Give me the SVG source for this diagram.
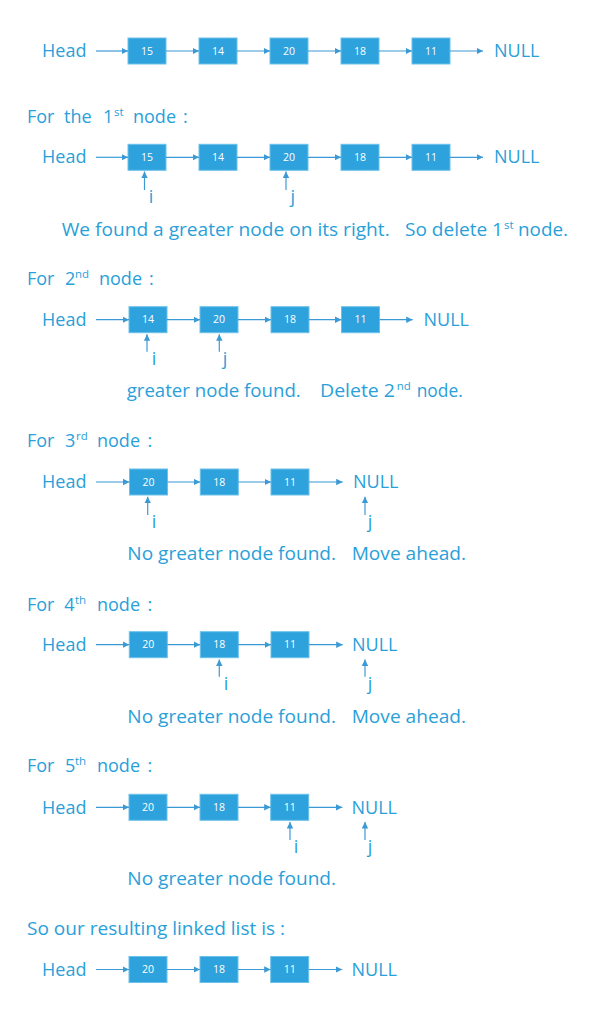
<svg xmlns="http://www.w3.org/2000/svg" width="595" height="1020" viewBox="0 0 595 1020">
<defs>
<marker id="ah" markerUnits="userSpaceOnUse" markerWidth="8" markerHeight="8" refX="6.5" refY="3.5" orient="auto">
<path d="M0,0.3 L6.5,3.5 L0,6.7 Z" fill="#3b9ad5"/>
</marker>
<style>
.t{font-family:"Open Sans","Noto Sans",sans-serif;font-size:18px;fill:#2a9fd9}
.sup{font-size:11.5px}
.m{text-anchor:middle}
.n rect{fill:#2ea2dd;stroke:#6cc1ea;stroke-width:1}
.n text{fill:#ffffff;font-family:"Open Sans","Noto Sans",sans-serif;font-size:10.5px;text-anchor:middle}
.c line{stroke:#3b9ad5;stroke-width:1.2;marker-end:url(#ah)}
</style>
</defs>
<rect width="595" height="1020" fill="#ffffff"/>

<g id="headings">
<text class="t" x="27" y="123">For</text><text class="t" x="64" y="123">the</text><text class="t" x="103" y="123">1</text><text class="t sup" x="114" y="116">st</text><text class="t" x="133" y="123">node</text><text class="t" x="183" y="123">:</text>
<text class="t" x="27" y="285">For</text><text class="t" x="65" y="285">2</text><text class="t sup" x="75" y="278">nd</text><text class="t" x="99" y="285">node</text><text class="t" x="149" y="285">:</text>
<text class="t" x="27" y="447.3">For</text><text class="t" x="65" y="447.3">3</text><text class="t sup" x="76" y="440.3">rd</text><text class="t" x="97" y="447.3">node</text><text class="t" x="147.5" y="447.3">:</text>
<text class="t" x="27" y="610.7">For</text><text class="t" x="64.3" y="610.7">4</text><text class="t sup" x="75" y="603.7">th</text><text class="t" x="97" y="610.7">node</text><text class="t" x="147.5" y="610.7">:</text>
<text class="t" x="27" y="772.3">For</text><text class="t" x="65" y="772.3">5</text><text class="t sup" x="75" y="765.3">th</text><text class="t" x="97" y="772.3">node</text><text class="t" x="147.5" y="772.3">:</text>
<text class="t" x="27" y="935" textLength="258" lengthAdjust="spacingAndGlyphs">So our resulting linked list is :</text>
</g>
<g id="sentences">
<text class="t" x="61.7" y="236" textLength="328" lengthAdjust="spacingAndGlyphs">We found a greater node on its right.</text>
<text class="t" x="405" y="236" textLength="98" lengthAdjust="spacingAndGlyphs">So delete 1</text><text class="t sup" x="504" y="229">st</text><text class="t" x="518" y="236" textLength="50" lengthAdjust="spacingAndGlyphs">node.</text>
<text class="t" x="126.7" y="397" textLength="174" lengthAdjust="spacingAndGlyphs">greater node found.</text>
<text class="t" x="320" y="397" textLength="75" lengthAdjust="spacingAndGlyphs">Delete 2</text><text class="t sup" x="396.7" y="390">nd</text><text class="t" x="416.7" y="397" textLength="46" lengthAdjust="spacingAndGlyphs">node.</text>
<text class="t" x="127.3" y="560" textLength="208.7" lengthAdjust="spacingAndGlyphs">No greater node found.</text>
<text class="t" x="351.7" y="560" textLength="114.3" lengthAdjust="spacingAndGlyphs">Move ahead.</text>
<text class="t" x="127.3" y="722.7" textLength="208.7" lengthAdjust="spacingAndGlyphs">No greater node found.</text>
<text class="t" x="351.7" y="722.7" textLength="114.3" lengthAdjust="spacingAndGlyphs">Move ahead.</text>
<text class="t" x="127.3" y="885" textLength="208.7" lengthAdjust="spacingAndGlyphs">No greater node found.</text>
</g>

<g id="labels">
<text class="t" x="42" y="57">Head</text><text class="t" x="494" y="57">NULL</text>
<text class="t" x="42" y="163">Head</text><text class="t" x="494" y="163">NULL</text>
<text class="t m" x="151" y="203">i</text><text class="t m" x="292.7" y="203">j</text>
<text class="t" x="42" y="326">Head</text><text class="t" x="423.5" y="326">NULL</text>
<text class="t m" x="154" y="365">i</text><text class="t m" x="225" y="365">j</text>
<text class="t" x="42" y="488">Head</text><text class="t" x="353" y="488">NULL</text>
<text class="t m" x="154" y="528">i</text><text class="t m" x="370" y="528">j</text>
<text class="t" x="42" y="651">Head</text><text class="t" x="352" y="651">NULL</text>
<text class="t m" x="226" y="690">i</text><text class="t m" x="370" y="690">j</text>
<text class="t" x="42" y="813.5">Head</text><text class="t" x="351.5" y="813.5">NULL</text>
<text class="t m" x="296" y="853">i</text><text class="t m" x="370" y="853">j</text>
<text class="t" x="42" y="976">Head</text><text class="t" x="351.5" y="976">NULL</text>
</g>

<g id="a15" class="n"><rect x="128" y="38" width="38" height="26"/><text x="147" y="54.7">15</text></g>
<g id="a14" class="n"><rect x="199" y="38" width="38" height="26"/><text x="218" y="54.7">14</text></g>
<g id="a20" class="n"><rect x="270" y="38" width="38" height="26"/><text x="289" y="54.7">20</text></g>
<g id="a18" class="n"><rect x="341" y="38" width="38" height="26"/><text x="360" y="54.7">18</text></g>
<g id="a11" class="n"><rect x="412" y="38" width="38" height="26"/><text x="431" y="54.7">11</text></g>
<g id="b15" class="n"><rect x="128" y="144.3" width="38" height="26"/><text x="147" y="161">15</text></g>
<g id="b14" class="n"><rect x="199" y="144.3" width="38" height="26"/><text x="218" y="161">14</text></g>
<g id="b20" class="n"><rect x="270" y="144.3" width="38" height="26"/><text x="289" y="161">20</text></g>
<g id="b18" class="n"><rect x="341" y="144.3" width="38" height="26"/><text x="360" y="161">18</text></g>
<g id="b11" class="n"><rect x="412" y="144.3" width="38" height="26"/><text x="431" y="161">11</text></g>
<g id="c14" class="n"><rect x="129" y="306.7" width="38" height="26"/><text x="148" y="323.4">14</text></g>
<g id="c20" class="n"><rect x="200" y="306.7" width="38" height="26"/><text x="219" y="323.4">20</text></g>
<g id="c18" class="n"><rect x="271" y="306.7" width="38" height="26"/><text x="290" y="323.4">18</text></g>
<g id="c11" class="n"><rect x="341.5" y="306.7" width="38" height="26"/><text x="360.5" y="323.4">11</text></g>
<g id="d20" class="n"><rect x="129.5" y="469" width="38" height="26"/><text x="148.5" y="485.7">20</text></g>
<g id="d18" class="n"><rect x="200.3" y="469" width="38" height="26"/><text x="219.3" y="485.7">18</text></g>
<g id="d11" class="n"><rect x="271" y="469" width="38" height="26"/><text x="290" y="485.7">11</text></g>
<g id="e20" class="n"><rect x="129.3" y="631.7" width="38" height="26"/><text x="148.3" y="648.4">20</text></g>
<g id="e18" class="n"><rect x="200.3" y="631.7" width="38" height="26"/><text x="219.3" y="648.4">18</text></g>
<g id="e11" class="n"><rect x="271" y="631.7" width="38" height="26"/><text x="290" y="648.4">11</text></g>
<g id="f20" class="n"><rect x="129" y="794.3" width="38" height="26"/><text x="148" y="811">20</text></g>
<g id="f18" class="n"><rect x="200" y="794.3" width="38" height="26"/><text x="219" y="811">18</text></g>
<g id="f11" class="n"><rect x="270.7" y="794.3" width="38" height="26"/><text x="289.7" y="811">11</text></g>
<g id="g20" class="n"><rect x="129" y="956.5" width="38" height="26"/><text x="148" y="973.2">20</text></g>
<g id="g18" class="n"><rect x="200" y="956.5" width="38" height="26"/><text x="219" y="973.2">18</text></g>
<g id="g11" class="n"><rect x="270.7" y="956.5" width="38" height="26"/><text x="289.7" y="973.2">11</text></g>

<g id="connectors" class="c">
<line x1="96" y1="51" x2="128" y2="51"/><line x1="166" y1="51" x2="199" y2="51"/><line x1="237" y1="51" x2="270" y2="51"/><line x1="308" y1="51" x2="341" y2="51"/><line x1="379" y1="51" x2="412" y2="51"/><line x1="450" y1="51" x2="483" y2="51"/>
<line x1="96" y1="157.3" x2="128" y2="157.3"/><line x1="166" y1="157.3" x2="199" y2="157.3"/><line x1="237" y1="157.3" x2="270" y2="157.3"/><line x1="308" y1="157.3" x2="341" y2="157.3"/><line x1="379" y1="157.3" x2="412" y2="157.3"/><line x1="450" y1="157.3" x2="483" y2="157.3"/>
<line x1="144.5" y1="190" x2="144.5" y2="171.5"/><line x1="286" y1="190" x2="286" y2="171.5"/>
<line x1="96" y1="319.7" x2="129" y2="319.7"/><line x1="167" y1="319.7" x2="200" y2="319.7"/><line x1="238" y1="319.7" x2="271" y2="319.7"/><line x1="309" y1="319.7" x2="341.5" y2="319.7"/><line x1="379.5" y1="319.7" x2="412.7" y2="319.7"/>
<line x1="147" y1="351.7" x2="147" y2="334.3"/><line x1="219.3" y1="351.7" x2="219.3" y2="334.3"/>
<line x1="96" y1="482" x2="129.5" y2="482"/><line x1="167.5" y1="482" x2="200.3" y2="482"/><line x1="238.3" y1="482" x2="271" y2="482"/><line x1="309" y1="482" x2="342.7" y2="482"/>
<line x1="147.7" y1="515" x2="147.7" y2="496.7"/><line x1="365" y1="515" x2="365" y2="496.7"/>
<line x1="96" y1="644.7" x2="129.3" y2="644.7"/><line x1="167.3" y1="644.7" x2="200.3" y2="644.7"/><line x1="238.3" y1="644.7" x2="271" y2="644.7"/><line x1="309" y1="644.7" x2="342.7" y2="644.7"/>
<line x1="219.3" y1="676.7" x2="219.3" y2="659.5"/><line x1="365" y1="676.7" x2="365" y2="659.5"/>
<line x1="96" y1="807.3" x2="129" y2="807.3"/><line x1="167" y1="807.3" x2="200" y2="807.3"/><line x1="238" y1="807.3" x2="270.7" y2="807.3"/><line x1="308.7" y1="807.3" x2="342.3" y2="807.3"/>
<line x1="290" y1="840" x2="290" y2="822"/><line x1="365" y1="840" x2="365" y2="822"/>
<line x1="96" y1="969.5" x2="129" y2="969.5"/><line x1="167" y1="969.5" x2="200" y2="969.5"/><line x1="238" y1="969.5" x2="270.7" y2="969.5"/><line x1="308.7" y1="969.5" x2="342.3" y2="969.5"/>
</g>
</svg>
